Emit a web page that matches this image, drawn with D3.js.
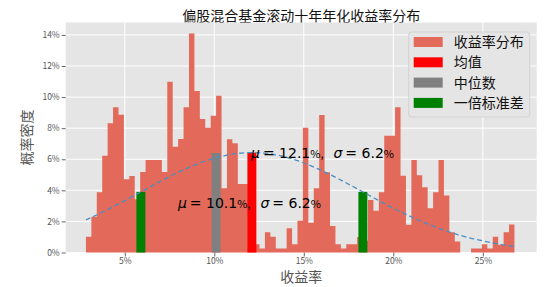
<!DOCTYPE html>
<html>
<head>
<meta charset="utf-8">
<script src="https://cdn.jsdelivr.net/npm/d3@7"></script>
<style>
    body { margin: 0; background: #fff; }
    text { font-family: "Noto Sans CJK SC", sans-serif; }
</style>
</head>
<body>
<div id="chart"></div>
<script>
// 直方图：首个分箱左边界、分箱宽度（单位 %）以及各分箱的概率密度（%）
const binStart = 2.83;
const binWidth = 0.303;
const density = [
    1.02, 2.30, 3.87, 6.23, 8.31, 9.34, 8.87, 4.71, 4.92, 3.42,
    5.18, 5.95, 5.95, 5.95, 5.18, 10.99, 6.81, 7.30, 9.34, 14.10,
    10.39, 8.59, 8.03, 8.80, 10.09, 4.13, 7.28, 7.03, 4.41, 4.41,
    3.00, 0.53, 0.25, 1.30, 1.02, 0.25, 0.25, 1.56, 0.53, 2.05,
    8.03, 1.92, 4.13, 8.85, 5.16, 1.71, 0.53, 0.25, 0.53, 0.53,
    1.00, 0.76, 3.38, 2.69, 3.87, 7.52, 7.52, 9.34, 4.94, 1.79,
    5.95, 4.97, 4.20, 2.84, 3.87, 5.95, 3.66, 1.30, 0.70, 0.00,
    0.00, 0.25, 0.25, 0.53, 0.25, 1.02, 0.50, 1.30, 1.80
];

// 正态拟合曲线（虚线）
const curveX = [2.83, 4, 6, 8, 10, 12, 14, 16, 18, 20, 22, 24, 26, 26.76];
const curveY = [2.10, 2.74, 3.96, 5.17, 6.07, 6.43, 6.14, 5.27, 4.09, 2.85, 1.80, 1.02, 0.52, 0.39];

// 均值 / 中位数 / 一倍标准差 标记柱
const markerX = [12.1, 10.1, 5.9, 18.3];
const markerH = [6.42, 6.40, 3.90, 3.90];
const markerColor = ['#ff0000', '#808080', '#008000', '#008000'];
const markerWidth = 0.5;

// 文字标注
const annoMu = ['12.1', '10.1'];
const annoSigma = ['6.2', '6.2'];
const annoX = [12.05, 7.97];
const annoY = [6.42, 3.15];

const legendLabels = ['收益率分布', '均值', '中位数', '一倍标准差'];
const legendColors = ['#e3695a', '#ff0000', '#808080', '#008000'];

const xTicks = [5, 10, 15, 20, 25];
const yTicks = [0, 2, 4, 6, 8, 10, 12, 14];
const xDomain = [1.70, 28.01];
const yDomain = [0, 14.8];

const W = 554, H = 287;
const margin = { top: 22.5, right: 17.3, bottom: 34.5, left: 65.7 };
const width = W - margin.left - margin.right;
const height = H - margin.top - margin.bottom;

const svgRoot = d3.select('#chart').append('svg')
    .attr('width', W)
    .attr('height', H);

svgRoot.append('text')
    .attr('x', margin.left + width / 2)
    .attr('y', 21)
    .attr('text-anchor', 'middle')
    .attr('font-size', 14)
    .attr('fill', '#111')
    .text('偏股混合基金滚动十年年化收益率分布');

const svg = svgRoot.append('g')
    .attr('transform', `translate(${margin.left},${margin.top})`);

const x = d3.scaleLinear().domain(xDomain).range([0, width]);
const y = d3.scaleLinear().domain(yDomain).range([height, 0]);

svg.append('rect')
    .attr('width', width)
    .attr('height', height)
    .attr('fill', '#e5e5e5');

// 网格
svg.selectAll('.gx').data(xTicks).enter().append('line')
    .attr('x1', d => x(d)).attr('x2', d => x(d))
    .attr('y1', 0).attr('y2', height)
    .attr('stroke', '#fff').attr('stroke-width', 1);
svg.selectAll('.gy').data(yTicks).enter().append('line')
    .attr('x1', 0).attr('x2', width)
    .attr('y1', d => y(d)).attr('y2', d => y(d))
    .attr('stroke', '#fff').attr('stroke-width', 1);

// 直方图：阶梯面积，避免相邻柱之间出现缝隙
const steps = density.map((d, i) => ({ x: binStart + i * binWidth, v: d }));
steps.push({ x: binStart + density.length * binWidth, v: density[density.length - 1] });

const histArea = d3.area()
    .x(d => x(d.x))
    .y0(y(0))
    .y1(d => y(d.v))
    .curve(d3.curveStepAfter);

svg.append('path')
    .datum(steps)
    .attr('d', histArea)
    .attr('fill', legendColors[0]);

// 标记柱
svg.selectAll('.marker').data(markerX).enter().append('rect')
    .attr('x', d => x(d - markerWidth / 2))
    .attr('width', x(markerWidth) - x(0))
    .attr('y', (d, i) => y(markerH[i]))
    .attr('height', (d, i) => y(0) - y(markerH[i]))
    .attr('fill', (d, i) => markerColor[i]);

// 正态曲线
const line = d3.line()
    .x((d, i) => x(curveX[i]))
    .y(d => y(d))
    .curve(d3.curveNatural);

svg.append('path')
    .datum(curveY)
    .attr('d', line)
    .attr('fill', 'none')
    .attr('stroke', '#4a8fc4')
    .attr('stroke-width', 1.3)
    .attr('stroke-dasharray', '5,3');

// 坐标轴
const xAxis = svg.append('g')
    .attr('transform', `translate(0,${height})`)
    .call(d3.axisBottom(x).tickValues(xTicks).tickFormat(d => d + '%').tickSize(4).tickPadding(1.5));
const yAxis = svg.append('g')
    .call(d3.axisLeft(y).tickValues(yTicks).tickFormat(d => d + '%').tickSize(4).tickPadding(2));

[xAxis, yAxis].forEach(g => {
    g.select('.domain').remove();
    g.selectAll('line').attr('stroke', '#666');
    g.selectAll('text')
        .attr('fill', '#555')
        .attr('font-size', 8.5)
        .attr('font-family', '"Noto Sans CJK SC", sans-serif');
});

svg.append('text')
    .attr('x', width / 2)
    .attr('y', height + 29.5)
    .attr('text-anchor', 'middle')
    .attr('font-size', 14)
    .attr('fill', '#555')
    .text('收益率');

svg.append('text')
    .attr('transform', 'rotate(-90)')
    .attr('x', -height / 2)
    .attr('y', -34)
    .attr('text-anchor', 'middle')
    .attr('font-size', 14)
    .attr('fill', '#555')
    .text('概率密度');

// 标注文字
annoMu.forEach((mu, i) => {
    const t = svg.append('text')
        .attr('x', x(annoX[i]))
        .attr('y', y(annoY[i]))
        .attr('dy', '0.35em')
        .attr('font-size', 14)
        .attr('fill', '#000');
    t.append('tspan').attr('font-family', 'DejaVu Sans').attr('font-style', 'italic').text('μ');
    t.append('tspan').attr('font-family', 'DejaVu Sans').attr('dx', 3).text('= ' + mu);
    t.append('tspan').attr('font-size', 11).text('%,');
    t.append('tspan').attr('font-family', 'DejaVu Sans').attr('font-style', 'italic').attr('dx', 10).text('σ');
    t.append('tspan').attr('font-family', 'DejaVu Sans').attr('dx', 3).text('= ' + annoSigma[i]);
    t.append('tspan').attr('font-size', 11).text('%');
});

// 图例
const lg = svg.append('g')
    .attr('transform', `translate(${width - 128},${9.5})`);
lg.append('rect')
    .attr('width', 121)
    .attr('height', 85)
    .attr('rx', 3)
    .attr('fill', '#e5e5e5')
    .attr('stroke', '#d2d2d2');
legendLabels.forEach((name, i) => {
    const row = lg.append('g').attr('transform', `translate(5,${10 + i * 20.3})`);
    row.append('rect')
        .attr('y', -5)
        .attr('width', 29)
        .attr('height', 10)
        .attr('fill', legendColors[i]);
    row.append('text')
        .attr('x', 40)
        .attr('dy', '0.36em')
        .attr('font-size', 14)
        .attr('fill', '#111')
        .text(name);
});
</script>
</body>
</html>
